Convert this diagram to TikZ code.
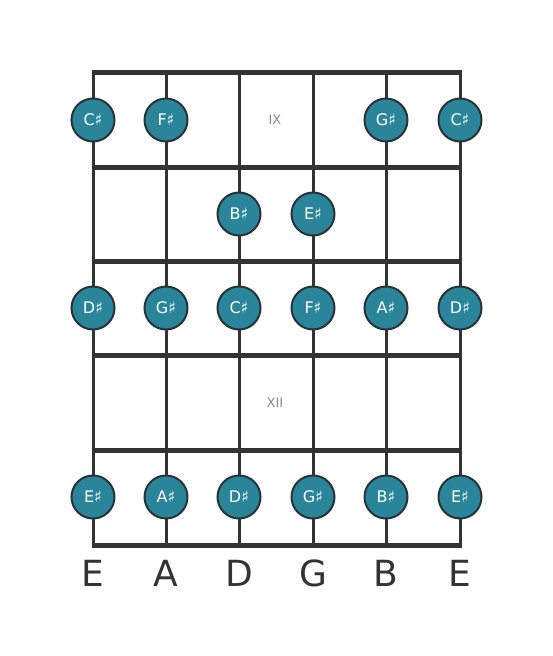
\documentclass[tikz,border=0pt]{standalone}
\usepackage{fontspec}
\setmainfont{DejaVu Sans}
\definecolor{notefill}{HTML}{2A849A}
\definecolor{noteedge}{HTML}{283338}
\definecolor{linecol}{HTML}{333333}
\definecolor{labgray}{HTML}{8A8A8A}
\tikzset{
  note/.style={circle, draw=noteedge, line width=2pt, fill=notefill, minimum size=43pt, inner sep=0pt, text=white, font=\fontsize{16}{16}\selectfont},
  fretline/.style={draw=linecol, line width=5pt},
  stringline/.style={draw=linecol, line width=3pt},
  fretlab/.style={text=labgray, font=\fontsize{13}{13}\selectfont},
  strname/.style={text=linecol, font=\fontsize{36}{36}\selectfont}
}
\begin{document}
\begin{tikzpicture}[x=1pt,y=-1pt]
\useasboundingbox (0,0) rectangle (553,656);
% strings
\foreach \i/\x in {1/93,2/166,3/239,4/313,5/386,6/460}{
  \coordinate (st\i) at (\x,72);
  \coordinate (sb\i) at (\x,545);
  \draw[stringline] (st\i) -- (sb\i);
}
% frets
\foreach \j/\y in {0/72,1/167,2/261,3/355,4/450,5/545}{
  \coordinate (fl\j) at (91.5,\y);
  \coordinate (fr\j) at (461.5,\y);
  \draw[fretline] (fl\j) -- (fr\j);
}
% fret labels
\node[fretlab] (ix) at (275,120) {IX};
\node[fretlab] (xii) at (275,403) {XII};
% notes
\node[note] (n1) at (93,120) {C♯};
\node[note] (n2) at (166,120) {F♯};
\node[note] (n3) at (386,120) {G♯};
\node[note] (n4) at (460,120) {C♯};
\node[note] (n5) at (239,214) {B♯};
\node[note] (n6) at (313,214) {E♯};
\node[note] (n7) at (93,308) {D♯};
\node[note] (n8) at (166,308) {G♯};
\node[note] (n9) at (239,308) {C♯};
\node[note] (n10) at (313,308) {F♯};
\node[note] (n11) at (386,308) {A♯};
\node[note] (n12) at (460,308) {D♯};
\node[note] (n13) at (93,497) {E♯};
\node[note] (n14) at (166,497) {A♯};
\node[note] (n15) at (239,497) {D♯};
\node[note] (n16) at (313,497) {G♯};
\node[note] (n17) at (386,497) {B♯};
\node[note] (n18) at (460,497) {E♯};
% string names
\node[strname] (s1) at (93,573) {E};
\node[strname] (s2) at (166,573) {A};
\node[strname] (s3) at (239,573) {D};
\node[strname] (s4) at (313,573) {G};
\node[strname] (s5) at (386,573) {B};
\node[strname] (s6) at (460,573) {E};
\end{tikzpicture}
\end{document}
